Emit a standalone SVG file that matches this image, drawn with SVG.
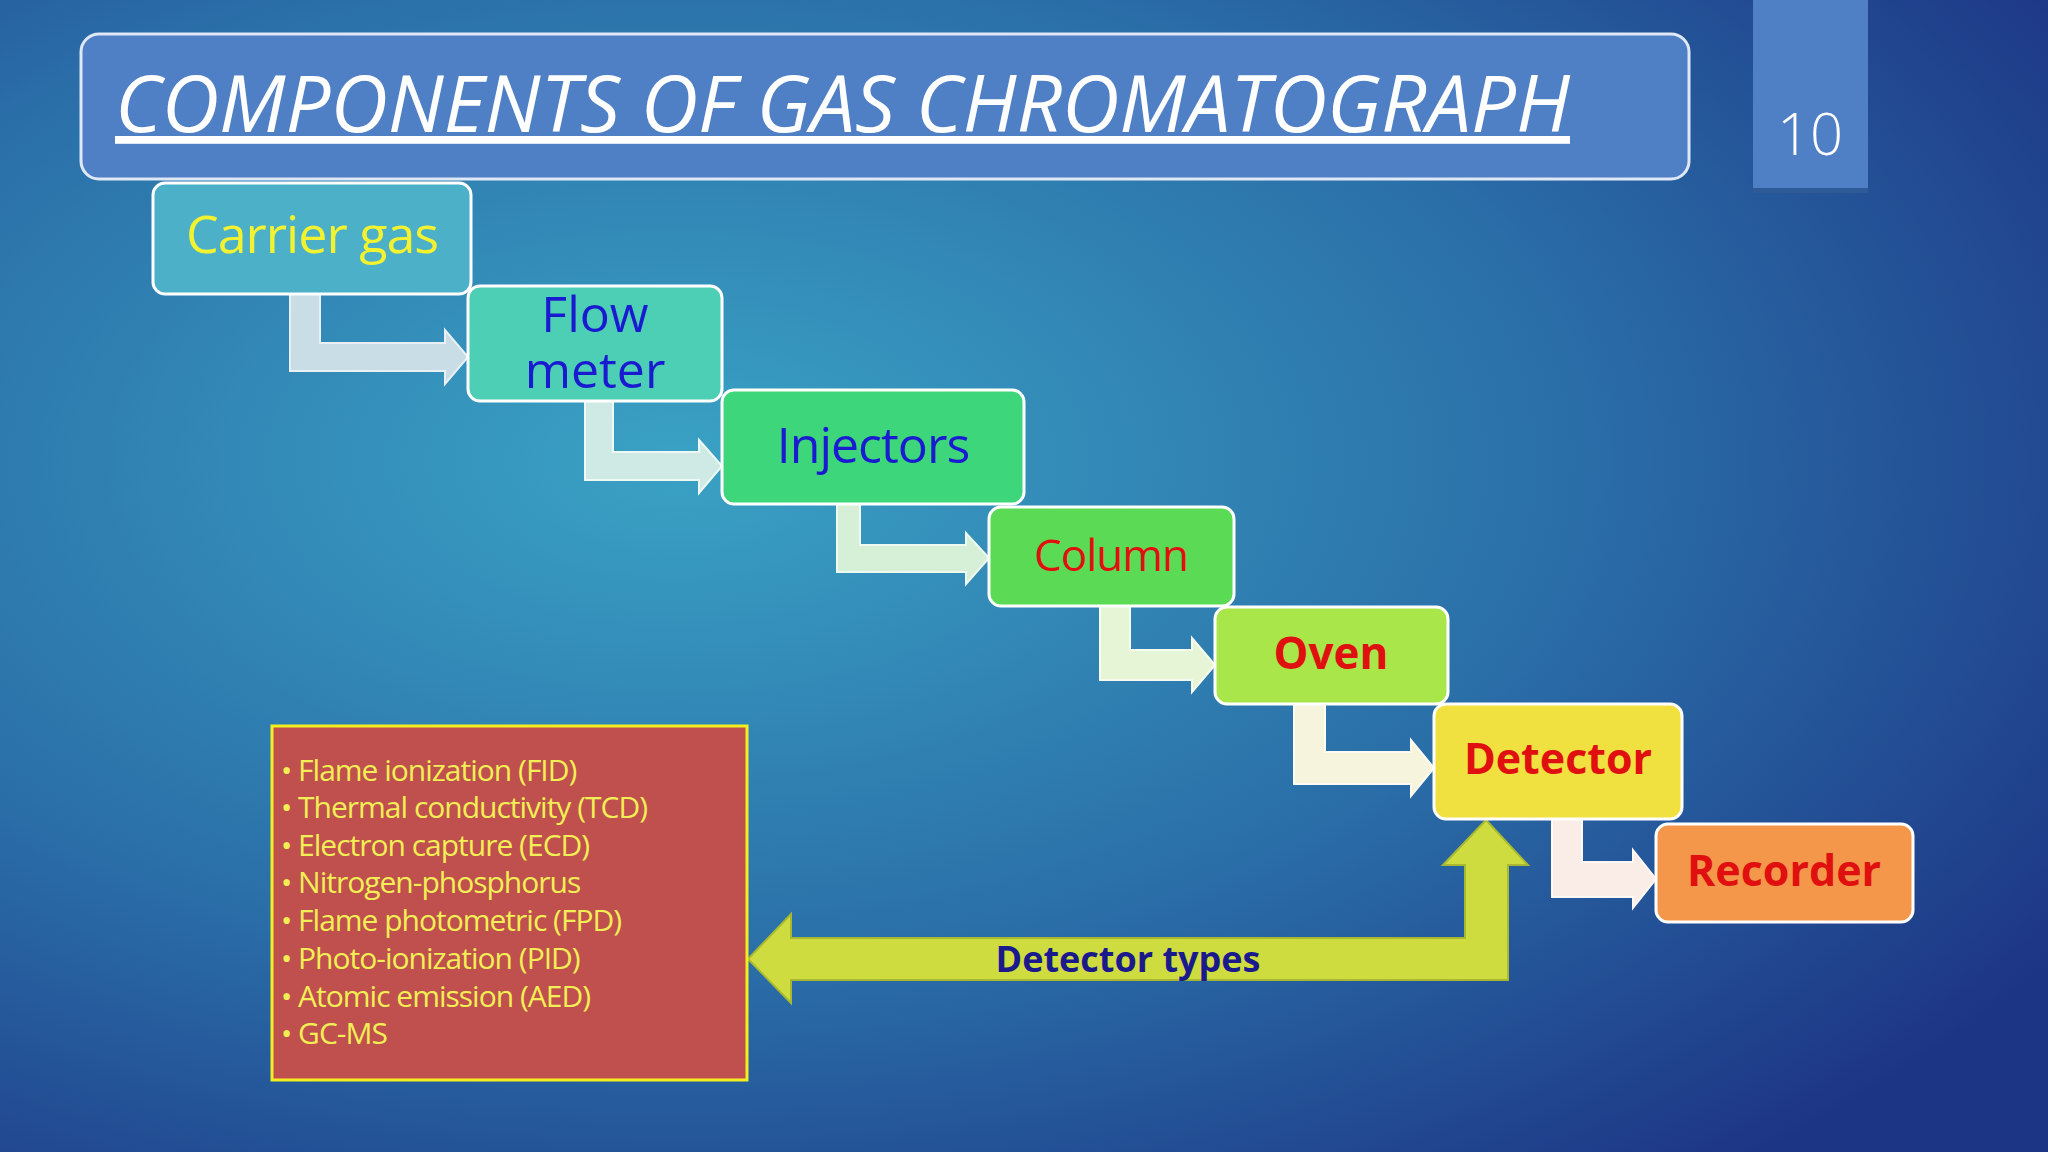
<svg xmlns="http://www.w3.org/2000/svg" width="2048" height="1152" viewBox="0 0 2048 1152">
<defs>
<radialGradient id="bg" cx="0.33" cy="0.4" r="0.8">
<stop offset="0" stop-color="#3aa2c4"/><stop offset="0.55" stop-color="#2a6ea8"/><stop offset="1" stop-color="#1d3585"/>
</radialGradient>
<style>
.box{stroke:#fff;stroke-width:3}
.t{font-family:"Open Sans","Liberation Sans",sans-serif;text-anchor:middle}
.b{font-family:"Open Sans","Liberation Sans",sans-serif;font-size:30px;fill:#f2ee55;letter-spacing:-1px}
</style>
</defs>
<rect width="2048" height="1152" fill="url(#bg)"/>
<g id="title">
<rect x="81" y="34" width="1608" height="145" rx="18" fill="#4f7fc4" stroke="#dfe8f5" stroke-width="3"/>
<text x="115" y="132" font-family="Open Sans, Liberation Sans, sans-serif" font-size="78" font-style="italic" fill="#fff" text-decoration="underline" textLength="1455" lengthAdjust="spacingAndGlyphs">COMPONENTS OF GAS CHROMATOGRAPH</text>
</g>
<g id="pagenum">
<rect x="1753" y="0" width="115" height="192" fill="#4f7fc4"/>
<rect x="1753" y="188" width="115" height="5" fill="#2e5a98"/>
<text class="t" x="1810" y="155" font-size="58" fill="#fff" font-weight="300">10</text>
</g>
<g id="connectors">
<path d="M290 294H320V343H445V330L468 357L445 384V371H290Z" fill="#c9dde6" stroke="#e8f0f5" stroke-width="2"/>
<path d="M585 401H613V452H699V440L722 466L699 493V480H585Z" fill="#cfeae4" stroke="#eef8f5" stroke-width="2"/>
<path d="M837 504H860V545H966V533L989 558L966 584V572H837Z" fill="#d6f0d8" stroke="#eef9ef" stroke-width="2"/>
<path d="M1100 606H1130V650H1192V638L1215 665L1192 692V680H1100Z" fill="#e6f5d6" stroke="#f5fbef" stroke-width="2"/>
<path d="M1294 704H1325V752H1411V740L1434 768L1411 796V784H1294Z" fill="#f6f4dc" stroke="#fdfcf2" stroke-width="2"/>
<path d="M1552 819H1582V862H1633V850L1656 879L1633 908V897H1552Z" fill="#faece6" stroke="#fff8f5" stroke-width="2"/>
<path d="M748 959L791 914V938H1465V865H1443L1486 820L1528 865H1508V980H791V1003Z" fill="#cfdc40" stroke="#a8b830" stroke-width="2"/>
<text class="t" x="1128" y="972" font-size="36" font-weight="bold" fill="#1a1a8c">Detector types</text>
</g>
<g id="carrier"><rect class="box" x="153" y="183" width="318" height="111" rx="12" fill="#4bb0c8"/><text class="t" x="312" y="253" font-size="52" fill="#f2f230" letter-spacing="-1">Carrier gas</text></g>
<g id="flow"><rect class="box" x="468" y="286" width="254" height="115" rx="12" fill="#4dcfb5"/><text class="t" x="595" y="332" font-size="50" fill="#1a1ad0">Flow</text><text class="t" x="595" y="388" font-size="50" fill="#1a1ad0">meter</text></g>
<g id="injectors"><rect class="box" x="722" y="390" width="302" height="114" rx="12" fill="#3ed67a"/><text class="t" x="873" y="463" font-size="50" fill="#1a1ad0" letter-spacing="-1">Injectors</text></g>
<g id="column"><rect class="box" x="989" y="507" width="245" height="99" rx="12" fill="#5ada55"/><text class="t" x="1111" y="571" font-size="44" fill="#e01010" letter-spacing="-1">Column</text></g>
<g id="oven"><rect class="box" x="1215" y="607" width="233" height="97" rx="12" fill="#a8e64a"/><text class="t" x="1331" y="669" font-size="44" font-weight="bold" fill="#e01010">Oven</text></g>
<g id="detector"><rect class="box" x="1434" y="704" width="248" height="115" rx="12" fill="#f0e040"/><text class="t" x="1558" y="774" font-size="43" font-weight="bold" fill="#e01010">Detector</text></g>
<g id="recorder"><rect class="box" x="1656" y="824" width="257" height="98" rx="12" fill="#f5974a"/><text class="t" x="1784" y="886" font-size="43" font-weight="bold" fill="#e01010">Recorder</text></g>
<g id="types">
<rect x="272" y="726" width="475" height="354" fill="#c0504d" stroke="#f2ee20" stroke-width="3"/>
<text class="b" x="281" y="781">• Flame ionization (FID)</text>
<text class="b" x="281" y="818">• Thermal conductivity (TCD)</text>
<text class="b" x="281" y="856">• Electron capture (ECD)</text>
<text class="b" x="281" y="893">• Nitrogen-phosphorus</text>
<text class="b" x="281" y="931">• Flame photometric (FPD)</text>
<text class="b" x="281" y="969">• Photo-ionization (PID)</text>
<text class="b" x="281" y="1007">• Atomic emission (AED)</text>
<text class="b" x="281" y="1044">• GC-MS</text>
</g>
</svg>
